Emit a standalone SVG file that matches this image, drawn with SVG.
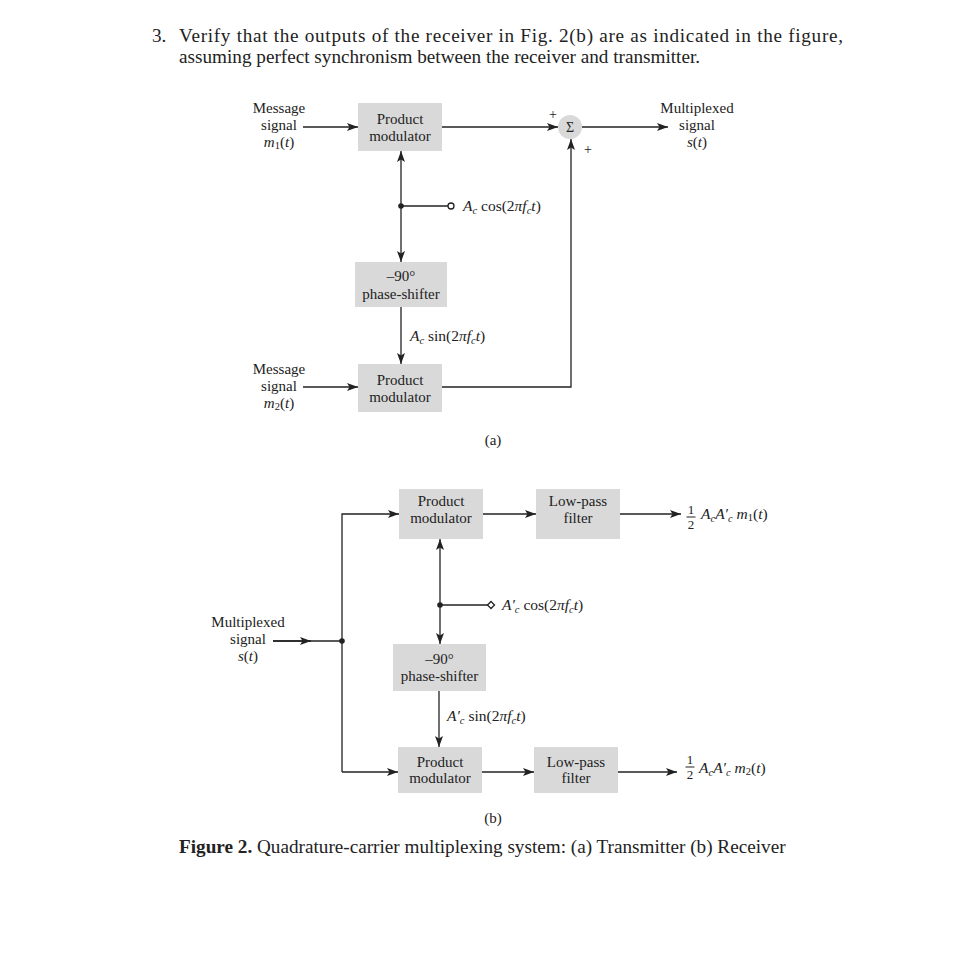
<svg xmlns="http://www.w3.org/2000/svg" width="960" height="960" viewBox="0 0 960 960">
<defs>
<style>
text{font-family:"Liberation Serif","Times New Roman",serif;fill:#222}
.q{font-size:19.2px}
.l{font-size:15px;text-anchor:middle}
.m{font-size:15.5px}
.i{font-style:italic}
.s{font-size:10.5px}
.f{font-size:13px;text-anchor:middle}
.box{fill:#d9d9d9}
.ln{fill:none;stroke:#222;stroke-width:1.3}
.ar{marker-end:url(#ah)}
</style>
<marker id="ah" markerUnits="userSpaceOnUse" markerWidth="12" markerHeight="9" refX="11" refY="4" orient="auto">
<path d="M0,0 L11,4 L0,8 L2.5,4 z" fill="#222"/>
</marker>
</defs>
<rect width="960" height="960" fill="#fff"/>

<g id="question">
<text class="q" x="152" y="42">3.</text>
<text class="q" x="179" y="42" textLength="664" lengthAdjust="spacing">Verify that the outputs of the receiver in Fig. 2(b) are as indicated in the figure,</text>
<text class="q" x="179" y="63">assuming perfect synchronism between the receiver and transmitter.</text>
</g>

<g id="connectors">
<!-- (a) -->
<line class="ln ar" x1="303" y1="127" x2="358" y2="127"/>
<line class="ln ar" x1="442" y1="127" x2="558" y2="127"/>
<line class="ln ar" x1="582" y1="127" x2="668" y2="127"/>
<line class="ln ar" x1="401" y1="206" x2="401" y2="151"/>
<line class="ln ar" x1="401" y1="206" x2="401" y2="262"/>
<line class="ln" x1="401" y1="206" x2="448" y2="206"/>
<line class="ln ar" x1="401" y1="307" x2="401" y2="364"/>
<line class="ln ar" x1="303" y1="387" x2="358" y2="387"/>
<polyline class="ln ar" points="442,387 571,387 571,139"/>
<!-- (b) -->
<line class="ln" x1="273" y1="641" x2="342" y2="641"/>
<line class="ln ar" x1="273" y1="641" x2="311" y2="641"/>
<polyline class="ln ar" points="342,772 342,514 399,514"/>
<line class="ln ar" x1="342" y1="772" x2="398" y2="772"/>
<line class="ln ar" x1="483" y1="514" x2="536" y2="514"/>
<line class="ln ar" x1="620" y1="514" x2="681" y2="514"/>
<line class="ln ar" x1="440" y1="605" x2="440" y2="539"/>
<line class="ln ar" x1="440" y1="605" x2="440" y2="644"/>
<line class="ln" x1="440" y1="605" x2="488" y2="605"/>
<line class="ln ar" x1="439" y1="691" x2="439" y2="747"/>
<line class="ln ar" x1="482" y1="772" x2="534" y2="772"/>
<line class="ln ar" x1="618" y1="772" x2="677" y2="772"/>
<!-- junctions -->
<circle cx="401" cy="206" r="2.8" fill="#222"/>
<circle cx="451" cy="206" r="3" fill="#fff" stroke="#222" stroke-width="1.3"/>
<circle cx="342" cy="641" r="2.8" fill="#222"/>
<circle cx="440" cy="605" r="2.8" fill="#222"/>
<path d="M491,601.5 L494.5,605 L491,608.5 L487.5,605 z" fill="#fff" stroke="#222" stroke-width="1.3"/>
</g>

<!-- (a) Transmitter -->
<g id="in-m1">
<text class="l" x="279" y="113">Message</text>
<text class="l" x="279" y="130">signal</text>
<text class="l" x="279" y="147"><tspan class="i">m</tspan><tspan class="s" dy="2">1</tspan><tspan dy="-2">(</tspan><tspan class="i">t</tspan>)</text>
</g>
<g id="pm1">
<rect class="box" x="358" y="103" width="84" height="48"/>
<text class="l" x="400" y="124">Product</text>
<text class="l" x="400" y="141">modulator</text>
</g>
<g id="sum">
<circle cx="570" cy="127" r="12" fill="#d9d9d9"/>
<text x="570" y="132" style="font-size:14px;text-anchor:middle">Σ</text>
<text x="553" y="119" style="font-size:14px;text-anchor:middle">+</text>
<text x="588" y="154" style="font-size:14px;text-anchor:middle">+</text>
</g>
<g id="out-s">
<text class="l" x="697" y="113">Multiplexed</text>
<text class="l" x="697" y="130">signal</text>
<text class="l" x="697" y="147"><tspan class="i">s</tspan>(<tspan class="i">t</tspan>)</text>
</g>
<g id="carrier-a">
<text class="m" x="463" y="211"><tspan class="i">A</tspan><tspan class="s i" dy="3">c</tspan><tspan dy="-3"> cos(2</tspan><tspan class="i">πf</tspan><tspan class="s i" dy="3">c</tspan><tspan class="i" dy="-3">t</tspan>)</text>
</g>
<g id="ps1">
<rect class="box" x="355" y="262" width="92" height="45"/>
<text class="l" x="401" y="281">–90°</text>
<text class="l" x="401" y="299">phase-shifter</text>
</g>
<g id="sin-a">
<text class="m" x="410" y="341"><tspan class="i">A</tspan><tspan class="s i" dy="3">c</tspan><tspan dy="-3"> sin(2</tspan><tspan class="i">πf</tspan><tspan class="s i" dy="3">c</tspan><tspan class="i" dy="-3">t</tspan>)</text>
</g>
<g id="in-m2">
<text class="l" x="279" y="374">Message</text>
<text class="l" x="279" y="391">signal</text>
<text class="l" x="279" y="408"><tspan class="i">m</tspan><tspan class="s" dy="2">2</tspan><tspan dy="-2">(</tspan><tspan class="i">t</tspan>)</text>
</g>
<g id="pm2">
<rect class="box" x="358" y="364" width="84" height="48"/>
<text class="l" x="400" y="385">Product</text>
<text class="l" x="400" y="402">modulator</text>
</g>
<text class="l" x="493" y="445">(a)</text>

<!-- (b) Receiver -->
<g id="in-s">
<text class="l" x="248" y="627">Multiplexed</text>
<text class="l" x="248" y="644">signal</text>
<text class="l" x="248" y="661"><tspan class="i">s</tspan>(<tspan class="i">t</tspan>)</text>
</g>
<g id="pm3">
<rect class="box" x="399" y="489" width="84" height="50"/>
<text class="l" x="441" y="506">Product</text>
<text class="l" x="441" y="523">modulator</text>
</g>
<g id="lpf1">
<rect class="box" x="536" y="489" width="84" height="50"/>
<text class="l" x="578" y="506">Low-pass</text>
<text class="l" x="578" y="523">filter</text>
</g>
<g id="out1">
<text class="f" x="691" y="514">1</text>
<line x1="686.5" y1="517" x2="695.5" y2="517" stroke="#222" stroke-width="1"/>
<text class="f" x="691" y="529">2</text>
<text class="m" x="701" y="519"><tspan class="i">A</tspan><tspan class="s i" dy="3">c</tspan><tspan class="i" dy="-3">A′</tspan><tspan class="s i" dy="3">c</tspan><tspan class="i" dy="-3"> m</tspan><tspan class="s" dy="2">1</tspan><tspan dy="-2">(</tspan><tspan class="i">t</tspan>)</text>
</g>
<g id="carrier-b">
<text class="m" x="502" y="610"><tspan class="i">A′</tspan><tspan class="s i" dy="3">c</tspan><tspan dy="-3"> cos(2</tspan><tspan class="i">πf</tspan><tspan class="s i" dy="3">c</tspan><tspan class="i" dy="-3">t</tspan>)</text>
</g>
<g id="ps2">
<rect class="box" x="393" y="644" width="93" height="47"/>
<text class="l" x="439.5" y="664">–90°</text>
<text class="l" x="439.5" y="681">phase-shifter</text>
</g>
<g id="sin-b">
<text class="m" x="447" y="721"><tspan class="i">A′</tspan><tspan class="s i" dy="3">c</tspan><tspan dy="-3"> sin(2</tspan><tspan class="i">πf</tspan><tspan class="s i" dy="3">c</tspan><tspan class="i" dy="-3">t</tspan>)</text>
</g>
<g id="pm4">
<rect class="box" x="398" y="747" width="84" height="46"/>
<text class="l" x="440" y="767">Product</text>
<text class="l" x="440" y="783">modulator</text>
</g>
<g id="lpf2">
<rect class="box" x="534" y="747" width="84" height="46"/>
<text class="l" x="576" y="767">Low-pass</text>
<text class="l" x="576" y="783">filter</text>
</g>
<g id="out2">
<text class="f" x="690" y="764">1</text>
<line x1="685.5" y1="767" x2="694.5" y2="767" stroke="#222" stroke-width="1"/>
<text class="f" x="690" y="779">2</text>
<text class="m" x="699" y="773"><tspan class="i">A</tspan><tspan class="s i" dy="3">c</tspan><tspan class="i" dy="-3">A′</tspan><tspan class="s i" dy="3">c</tspan><tspan class="i" dy="-3"> m</tspan><tspan class="s" dy="2">2</tspan><tspan dy="-2">(</tspan><tspan class="i">t</tspan>)</text>
</g>
<text class="l" x="493" y="823">(b)</text>

<g id="caption">
<text class="q" x="179" y="853"><tspan font-weight="bold">Figure 2.</tspan> Quadrature-carrier multiplexing system: (a) Transmitter (b) Receiver</text>
</g>
</svg>
